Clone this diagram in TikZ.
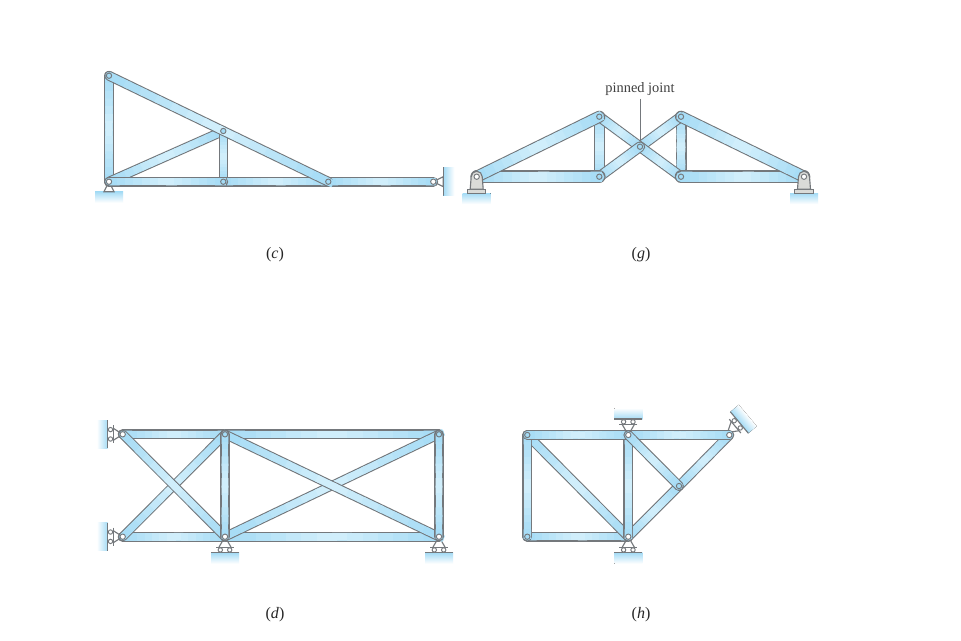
\documentclass[tikz,border=0pt]{standalone}
\usepackage{fontspec}
\setmainfont{Liberation Serif}
\usetikzlibrary{calc,positioning}

\definecolor{bardark}{HTML}{A4DBF5}
\definecolor{barlight}{HTML}{D3EFFB}
\definecolor{rimgray}{HTML}{74787C}
\definecolor{groundblue}{HTML}{A4DBF5}
\definecolor{standgray}{HTML}{DADBD8}

\tikzset{
  pinjoint/.style={circle, draw=rimgray, fill=bardark, line width=.7pt, inner sep=0pt, minimum size=4pt},
  pinfree/.style={pinjoint, fill=white},
  caption/.style={font=\fontsize{12}{14}\selectfont, text=black!85},
  calltext/.style={font=\fontsize{10.8}{13}\selectfont, text=black!75, inner sep=2pt},
  leader/.style={draw=rimgray, line width=.7pt},
  supline/.style={draw=rimgray, line width=.85pt},
  roller/.style={draw=rimgray, line width=.7pt, fill=white}
}

% #1 width in px, #2 and #3 joints
\newcommand{\trussbar}[3][9.8]{%
  \draw[rimgray, line width=#1*.75pt, line cap=round] (#2) -- (#3);
  \draw[bardark, line width=(#1-2.4)*.75pt, line cap=round] (#2) -- (#3);
  \foreach \s in {0,...,13} {
    \pgfmathtruncatemacro{\m}{100*abs(2*(\s+.5)/14-1)}
    \pgfmathsetmacro{\segstart}{\s/14}
    \pgfmathsetmacro{\segend}{(\s+1.3)/14}
    \draw[bardark!\m!barlight, line width=(#1-2.4)*.75pt] ($(#2)!\segstart!(#3)$) -- ($(#2)!\segend!(#3)$);
  }
}
% ground block below a support, turned by #2
\newcommand{\groundblock}[3]{%
  \begin{scope}[transform canvas={shift={(#1)}, rotate=#2}]
    \fill[top color=groundblue, middle color=groundblue!95, bottom color=white] (-14,#3) rectangle (14,#3+11);
  \end{scope}
}
\newcommand{\pinsupport}[2]{%
  \groundblock{#1}{#2}{10}
  \begin{scope}[shift={(#1)}, rotate=#2]
    \draw[supline] (-5,10) -- (0,0) -- (5,10) -- cycle;
  \end{scope}
}
% #1 distance to the ground line
\newcommand{\rollersupport}[3][16]{%
  \groundblock{#2}{#3}{#1}
  \begin{scope}[shift={(#2)}, rotate=#3]
    \draw[supline] (-6,#1-5.6) -- (0,0) -- (6,#1-5.6);
    \draw[supline] (-9,#1-5.6) -- (9,#1-5.6);
    \draw[supline] (-14,#1) -- (14,#1);
    \draw[roller] (-4.7,#1-2.8) circle[radius=2.2];
    \draw[roller] (4.7,#1-2.8) circle[radius=2.2];
  \end{scope}
}
\newcommand{\standsupport}[1]{%
  \groundblock{#1}{0}{16.4}
  \begin{scope}[shift={(#1)}]
    \draw[supline, fill=standgray] (-9.2,12.4) rectangle (9.2,16.4);
    \draw[supline, fill=standgray] (-6.5,12.4) -- (-5.5,0) arc[start angle=180, end angle=360, radius=5.5] -- (6.5,12.4) -- cycle;
  \end{scope}
}

\begin{document}
\begin{tikzpicture}[x=.75pt, y=-.75pt]
  \path[fill=white, use as bounding box] (0,0) rectangle (961,640);

  % truss c
  \coordinate (c1) at (109,75.7);
  \coordinate (c2) at (109,181.7);
  \coordinate (c3) at (223.3,131);
  \coordinate (c4) at (223.3,181.7);
  \coordinate (c5) at (328.3,181.7);
  \coordinate (c6) at (433.3,181.7);
  \pinsupport{c2}{0}
  \pinsupport{c6}{90}
  \draw[supline] (443.3,167.3) -- (443.3,195);
  \trussbar{c1}{c2}
  \trussbar{c2}{c3}
  \trussbar[9.3]{c3}{c4}
  \trussbar{c4}{c5}
  \trussbar{c5}{c6}
  \trussbar{c2}{c4}
  \trussbar{c1}{c5}
  \foreach \j in {c1,c3,c4,c5} \node[pinjoint] (pin\j) at (\j) {};
  \foreach \j in {c2,c6} \node[pinfree] (pin\j) at (\j) {};
  \node[caption] (capc) at (275,254.5) {(\textit{c})};

  % truss g
  \coordinate (g1) at (476.7,176.7);
  \coordinate (g2) at (599.3,116.7);
  \coordinate (g3) at (599.3,176.7);
  \coordinate (g4) at (640,146.7);
  \coordinate (g5) at (681,116.7);
  \coordinate (g6) at (681,176.7);
  \coordinate (g7) at (804,176.7);
  \node[calltext] (capjoint) at (640,89.5) {pinned joint};
  \draw[leader] (capjoint.south) -- (g4);
  \trussbar[11]{g2}{g3}
  \trussbar[11]{g5}{g6}
  \trussbar[10.5]{g4}{g5}
  \trussbar[10.5]{g2}{g4}
  \trussbar[10.5]{g4}{g6}
  \trussbar[10.5]{g3}{g4}
  \trussbar[12.5]{g1}{g3}
  \trussbar[12.5]{g6}{g7}
  \trussbar[12]{g1}{g2}
  \trussbar[12]{g5}{g7}
  \standsupport{g1}
  \standsupport{g7}
  \foreach \j in {g2,g3,g4,g5,g6} \node[pinjoint] (pin\j) at (\j) {};
  \foreach \j in {g1,g7} \node[pinfree] (pin\j) at (\j) {};
  \node[caption] (capg) at (641,254.5) {(\textit{g})};

  % truss d
  \coordinate (d1) at (122.7,434.3);
  \coordinate (d2) at (225,434.3);
  \coordinate (d3) at (439,434.3);
  \coordinate (d4) at (122.7,536.7);
  \coordinate (d5) at (225,536.7);
  \coordinate (d6) at (439,536.7);
  \rollersupport[15]{d1}{-90}
  \rollersupport[15]{d4}{-90}
  \rollersupport{d5}{0}
  \rollersupport{d6}{0}
  \trussbar[10]{d1}{d2}
  \trussbar[10]{d2}{d3}
  \trussbar[10]{d4}{d5}
  \trussbar[10]{d5}{d6}
  \trussbar[9.3]{d4}{d2}
  \trussbar[9.3]{d1}{d5}
  \trussbar[9.3]{d5}{d3}
  \trussbar[9.3]{d2}{d6}
  \trussbar[9.3]{d2}{d5}
  \trussbar[9.3]{d3}{d6}
  \foreach \j in {d2,d3} \node[pinjoint] (pin\j) at (\j) {};
  \foreach \j in {d1,d4,d5,d6} \node[pinfree] (pin\j) at (\j) {};
  \node[caption] (capd) at (275,614.5) {(\textit{d})};

  % truss h
  \coordinate (h1) at (527.3,435);
  \coordinate (h2) at (628.3,435);
  \coordinate (h3) at (729.3,435);
  \coordinate (h4) at (527.3,536.7);
  \coordinate (h5) at (628.3,536.7);
  \coordinate (h6) at (679,486);
  \coordinate (h7) at (727.5,432.5);
  \rollersupport{h2}{180}
  \rollersupport{h5}{0}
  \rollersupport[15.5]{h7}{130}
  \trussbar{h4}{h5}
  \trussbar{h1}{h5}
  \trussbar{h1}{h4}
  \trussbar{h5}{h6}
  \trussbar{h6}{h3}
  \trussbar{h2}{h5}
  \trussbar{h2}{h3}
  \trussbar{h1}{h2}
  \trussbar{h2}{h6}
  \foreach \j in {h1,h4,h6} \node[pinjoint] (pin\j) at (\j) {};
  \foreach \j in {h2,h3,h5} \node[pinfree] (pin\j) at (\j) {};
  \node[caption] (caph) at (641,614.5) {(\textit{h})};
\end{tikzpicture}
\end{document}
